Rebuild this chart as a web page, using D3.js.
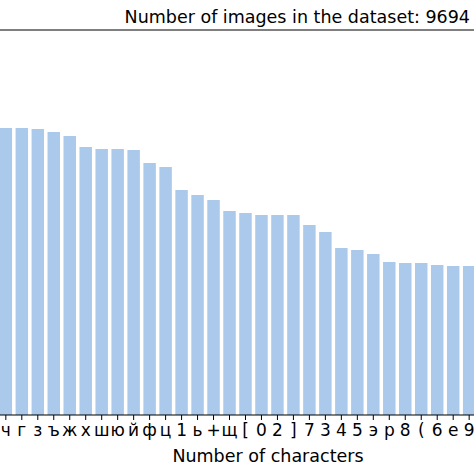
<!DOCTYPE html><html><head><meta charset="utf-8"><script src="https://cdn.jsdelivr.net/npm/d3@7"></script>
<style>body{margin:0;background:#fff}</style></head><body><svg id="c" width="474" height="474"></svg>
<script>
const categories=["ч","г","з","ъ","ж","х","ш","ю","й","ф","ц","1","ь","+","щ","[","0","2","]","7","3","4","5","э","р","8","(","6","е","9"];
const values=[287,287,286,283,279,268,266,266,265,252,248,225,220,215,204,202,200,200,200,190,183,167,165,161,153,152,152,150,149,149];
const title="Number of images in the dataset: 9694";
const xlabel="Number of characters";
const svg=d3.select("#c");
const yTop=30,yBottom=415;
const x=d3.scaleBand().domain(categories).range([-2,477]).paddingInner(0.22).paddingOuter(0.1);
const y=d3.scaleLinear().domain([0,385]).range([yBottom,yTop]);
svg.selectAll("rect").data(values).join("rect")
 .attr("x",(d,i)=>x(categories[i])).attr("width",x.bandwidth())
 .attr("y",d=>y(d)).attr("height",d=>yBottom-y(d)).attr("fill","#abc9ea");
const ax=svg.append("g").attr("transform",`translate(0,${yBottom})`).call(d3.axisBottom(x).tickSize(5).tickPadding(4));
ax.select(".domain").remove();
ax.selectAll("text").attr("font-size",17).attr("font-family","DejaVu Sans").attr("fill","#000");
svg.append("line").attr("x1",0).attr("x2",474).attr("y1",yBottom).attr("y2",yBottom).attr("stroke","#000").attr("stroke-width",1.2);
svg.append("line").attr("x1",0).attr("x2",474).attr("y1",yTop).attr("y2",yTop).attr("stroke","#000").attr("stroke-width",1.2);
svg.append("text").attr("x",470).attr("y",23).attr("text-anchor","end").attr("font-size",17.5).attr("font-family","DejaVu Sans").text(title);
svg.append("text").attr("x",268).attr("y",462).attr("text-anchor","middle").attr("font-size",17.5).attr("font-family","DejaVu Sans").text(xlabel);
</script></body></html>
